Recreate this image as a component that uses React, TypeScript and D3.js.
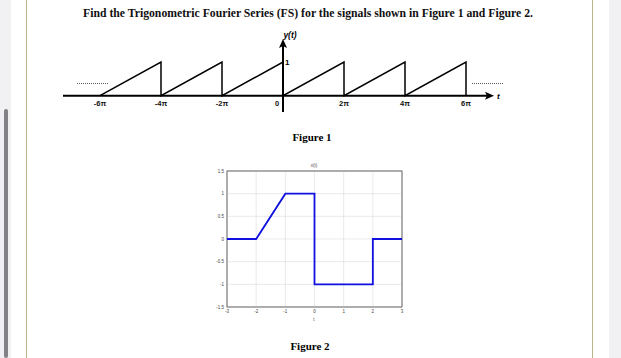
import React from "react";
import * as d3 from "d3";

const PI = Math.PI;
const sawPeriodStarts = [-6, -4, -2, 0, 2, 4]; // in units of π
const fig1TickValues = [-6, -4, -2, 0, 2, 4, 6];
const fig1TickLabels = ["-6π", "-4π", "-2π", "0", "2π", "4π", "6π"];

const fig2T = [-3, -2, -1, 0, 0, 2, 2, 3];
const fig2X = [0, 0, 1, 1, -1, -1, 0, 0];
const fig2XTicks = [-3, -2, -1, 0, 1, 2, 3];
const fig2YTicks = [-1.5, -1, -0.5, 0, 0.5, 1, 1.5];

export default function App() {
  const W = 621, H = 358;
  // Figure 1 scales
  const x1 = d3.scaleLinear().domain([-6 * PI, 6 * PI]).range([100, 466]);
  const y1 = d3.scaleLinear().domain([0, 1]).range([95.7, 62]);
  const sawPts: [number, number][] = [];
  sawPeriodStarts.forEach((s) => {
    sawPts.push([s * PI, 0]);
    sawPts.push([(s + 2) * PI, 1]);
    sawPts.push([(s + 2) * PI, 0]);
  });
  const sawLine = d3.line<[number, number]>().x((d) => x1(d[0])).y((d) => y1(d[1]));

  // Figure 2 scales
  const x2 = d3.scaleLinear().domain([-3, 3]).range([227, 402]);
  const y2 = d3.scaleLinear().domain([-1.5, 1.5]).range([307, 171]);
  const fig2Pts: [number, number][] = fig2T.map((t, i) => [t, fig2X[i]]);
  const fig2Line = d3.line<[number, number]>().x((d) => x2(d[0])).y((d) => y2(d[1]));

  const axY = y1(0);
  return (
    <svg width={W} height={H} style={{ position: "absolute", left: 0, top: 0, background: "#fff" }}>
      {/* page chrome */}
      <rect x={0} y={0} width={11} height={H} fill="#f1f1f4" />
      <rect x={4} y={109} width={4} height={H - 109} rx={2} fill="#818186" />
      <line x1={26.5} y1={0} x2={26.5} y2={H} stroke="#b8b48a" strokeWidth={1} />
      <line x1={592.5} y1={0} x2={592.5} y2={H} stroke="#b8b48a" strokeWidth={1} />
      <rect x={609} y={0} width={12} height={H} fill="#f1f1f4" />

      <text x={308} y={17} textAnchor="middle" fontFamily="Liberation Serif, serif" fontWeight="bold" fontSize={12} textLength={450} lengthAdjust="spacingAndGlyphs" fill="#111">
        Find the Trigonometric Fourier Series (FS) for the signals shown in Figure 1 and Figure 2.
      </text>

      {/* Figure 1 */}
      <line x1={63} y1={axY} x2={488} y2={axY} stroke="#000" strokeWidth={2} />
      <path d={`M494,${axY} L485,${axY - 4} L487,${axY} L485,${axY + 4} Z`} fill="#000" />
      <text x={497} y={axY + 3} fontFamily="Liberation Sans, sans-serif" fontStyle="italic" fontWeight="bold" fontSize={8}>t</text>
      <line x1={x1(0)} y1={112} x2={x1(0)} y2={46} stroke="#000" strokeWidth={2} />
      <path d={`M${x1(0)},39 L${x1(0) - 4},48 L${x1(0)},46 L${x1(0) + 4},48 Z`} fill="#000" />
      <text x={x1(0) + 7} y={38} textAnchor="middle" fontFamily="Liberation Sans, sans-serif" fontStyle="italic" fontWeight="bold" fontSize={8.5}>y(t)</text>
      <text x={x1(0) + 2} y={y1(1) + 3} fontFamily="Liberation Sans, sans-serif" fontWeight="bold" fontSize={8}>1</text>
      <path d={sawLine(sawPts) || ""} fill="none" stroke="#000" strokeWidth={1.5} />
      {fig1TickValues.map((v, i) => (
        <text key={i} x={x1(v * PI) + (v === 0 ? -6 : 0)} y={106} textAnchor="middle" fontFamily="Liberation Sans, sans-serif" fontWeight="bold" fontSize={7.5} fill="#111">
          {fig1TickLabels[i]}
        </text>
      ))}
      <line x1={77} y1={83.5} x2={109} y2={83.5} stroke="#333" strokeWidth={0.8} strokeDasharray="1,1" />
      <line x1={472} y1={83.5} x2={503} y2={83.5} stroke="#333" strokeWidth={0.8} strokeDasharray="1,1" />
      <text x={312} y={141} textAnchor="middle" fontFamily="Liberation Serif, serif" fontWeight="bold" fontSize={11}>Figure 1</text>

      {/* Figure 2 */}
      <rect x={227} y={171} width={175} height={136} fill="#fff" stroke="#666" strokeWidth={0.6} />
      {fig2XTicks.map((t) => (
        <g key={"gx" + t}>
          <line x1={x2(t)} y1={171} x2={x2(t)} y2={307} stroke="#dcdcdc" strokeWidth={0.6} />
          <text x={x2(t)} y={313} textAnchor="middle" fontFamily="Liberation Sans, sans-serif" fontSize={4.5} fill="#444">{t}</text>
        </g>
      ))}
      {fig2YTicks.map((v) => (
        <g key={"gy" + v}>
          <line x1={227} y1={y2(v)} x2={402} y2={y2(v)} stroke="#dcdcdc" strokeWidth={0.6} />
          <text x={224} y={y2(v) + 1.5} textAnchor="end" fontFamily="Liberation Sans, sans-serif" fontSize={4.5} fill="#444">{v}</text>
        </g>
      ))}
      <rect x={227} y={171} width={175} height={136} fill="none" stroke="#555" strokeWidth={0.6} />
      <path d={fig2Line(fig2Pts) || ""} fill="none" stroke="#1010e0" strokeWidth={1.8} />
      <text x={314} y={167} textAnchor="middle" fontFamily="Liberation Sans, sans-serif" fontSize={4.5} fill="#444">x(t)</text>
      <text x={314} y={321} textAnchor="middle" fontFamily="Liberation Sans, sans-serif" fontSize={4.5} fill="#444">t</text>
      <text x={310} y={350} textAnchor="middle" fontFamily="Liberation Serif, serif" fontWeight="bold" fontSize={11}>Figure 2</text>
    </svg>
  );
}
